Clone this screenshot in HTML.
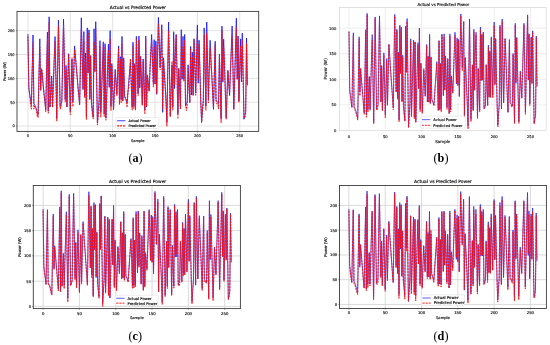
<!DOCTYPE html>
<html><head><meta charset="utf-8"><title>Actual vs Predicted Power</title>
<style>
html,body{margin:0;padding:0;background:#fff;}
body{width:550px;height:345px;overflow:hidden;}
svg{display:block;}
svg text{font-family:"DejaVu Sans","Liberation Sans",sans-serif;stroke:#222;stroke-width:0.18px;}
svg text.cap{font-family:"Liberation Serif","DejaVu Serif",serif;font-size:12.2px;fill:#000;stroke:none;}
</style></head>
<body>
<svg width="550" height="345" viewBox="0 0 550 345">
<rect width="550" height="345" fill="#fff"/>
<g id="plot-a">
<line x1="27.95" y1="11.4" x2="27.95" y2="131.4" stroke="#dcdcdc" stroke-width="0.8"/>
<line x1="70.31" y1="11.4" x2="70.31" y2="131.4" stroke="#dcdcdc" stroke-width="0.8"/>
<line x1="112.67" y1="11.4" x2="112.67" y2="131.4" stroke="#dcdcdc" stroke-width="0.8"/>
<line x1="155.03" y1="11.4" x2="155.03" y2="131.4" stroke="#dcdcdc" stroke-width="0.8"/>
<line x1="197.39" y1="11.4" x2="197.39" y2="131.4" stroke="#dcdcdc" stroke-width="0.8"/>
<line x1="239.75" y1="11.4" x2="239.75" y2="131.4" stroke="#dcdcdc" stroke-width="0.8"/>
<line x1="17" y1="126.05" x2="258.7" y2="126.05" stroke="#dcdcdc" stroke-width="0.8"/>
<line x1="17" y1="102.2" x2="258.7" y2="102.2" stroke="#dcdcdc" stroke-width="0.8"/>
<line x1="17" y1="78.35" x2="258.7" y2="78.35" stroke="#dcdcdc" stroke-width="0.8"/>
<line x1="17" y1="54.5" x2="258.7" y2="54.5" stroke="#dcdcdc" stroke-width="0.8"/>
<line x1="17" y1="30.65" x2="258.7" y2="30.65" stroke="#dcdcdc" stroke-width="0.8"/>
<polyline points="27.95,33.99 28.8,88.51 29.64,93.87 30.49,99.23 31.34,104.58 32.19,69.76 33.03,34.94 33.88,103.63 34.73,105.06 35.57,106.49 36.42,109.23 37.27,111.96 38.12,114.7 38.96,76.73 39.81,38.76 40.66,90.28 41.51,68.81 42.35,77.05 43.2,85.3 44.05,93.54 44.89,101.78 45.74,110.02 46.59,71.05 47.44,32.08 48.28,111.26 49.13,16.82 49.98,106.97 50.82,91.47 51.67,75.97 52.52,106.49 53.37,83.2 54.21,59.91 55.06,36.61 55.91,77.56 56.75,118.51 57.6,69.33 58.45,20.16 59.3,63.09 60.14,106.02 60.99,103.96 61.84,101.91 62.69,60.56 63.53,19.2 64.38,59.34 65.23,99.48 66.07,65.47 66.92,106.97 67.77,80.33 68.62,53.69 69.46,82.48 70.31,111.26 71.16,85.15 72,59.03 72.85,101.96 73.7,73.94 74.55,45.91 75.39,55.93 76.24,65.95 77.09,75.97 77.93,85.58 78.78,95.2 79.63,104.82 80.48,61.3 81.32,17.77 82.17,53.71 83.02,89.65 83.87,31.6 84.71,96 85.56,53.07 86.41,116.41 87.25,27.88 88.1,72.77 88.95,29.84 89.8,98.86 90.64,55.93 91.49,103.01 92.34,110 93.18,116.99 94.03,28.74 94.88,71.67 95.73,21.68 96.57,72.32 97.42,122.95 98.27,111.53 99.11,100.1 99.96,40.67 100.81,112.31 101.66,88.81 102.5,65.31 103.35,41.81 104.2,114.12 105.05,43.62 105.89,118.18 106.74,93.52 107.59,68.86 108.43,44.2 109.28,87.13 110.13,30.65 110.98,106.49 111.82,63.56 112.67,86.46 113.52,109.35 114.36,89.37 115.21,69.38 116.06,81.83 116.91,94.28 117.75,70.1 118.6,45.91 119.45,99.53 120.29,56.6 121.14,99.53 121.99,36.37 122.84,100.77 123.68,57.84 124.53,96.62 125.38,98.56 126.23,100.5 127.07,102.44 127.92,92.3 128.77,82.17 129.61,72.03 130.46,61.89 131.31,84.5 132.16,107.11 133,42.19 133.85,106.49 134.7,63.56 135.54,106.49 136.39,36.37 137.24,65.04 138.09,93.71 138.93,35.99 139.78,87.89 140.63,56.6 141.47,80.71 142.32,104.82 143.17,59.03 144.02,84.53 144.86,110.02 145.71,35.99 146.56,106.97 147.41,75.25 148.25,83.02 149.1,90.8 149.95,72.02 150.79,53.24 151.64,34.47 152.49,58.55 153.34,82.64 154.18,39.71 155.03,84.07 155.88,41.14 156.72,94.28 157.57,55.84 158.42,17.39 159.27,42.5 160.11,67.62 160.96,46.15 161.81,24.69 162.65,112.31 163.5,57.84 164.35,72.32 165.2,86.81 166.04,101.29 166.89,122.23 167.74,72.15 168.59,22.06 169.43,68.93 170.28,115.79 171.13,90.3 171.97,64.8 172.82,106.97 173.67,31.7 174.52,88.51 175.36,52.11 176.21,34.47 177.06,74.3 177.9,114.12 178.75,68.33 179.6,87.65 180.45,106.97 181.29,29.7 182.14,79.3 182.99,36.37 183.83,79.3 184.68,34.47 185.53,106.02 186.38,103.96 187.22,101.91 188.07,64.8 188.92,83.5 189.77,102.2 190.61,46.49 191.46,95.05 192.31,52.11 193.15,95.05 194,38.76 194.85,65.95 195.7,93.14 196.54,59.03 197.39,24.93 198.24,83.12 199.08,40.19 199.93,70.74 200.78,101.29 201.63,121.52 202.47,110.81 203.32,100.1 204.17,27.88 205.01,66.95 205.86,106.02 206.71,22.06 207.56,61.08 208.4,100.1 209.25,70.19 210.1,40.29 210.95,57.55 211.79,74.82 212.64,92.09 213.49,109.35 214.33,75.3 215.18,41.24 216.03,100.1 216.88,101.28 217.72,102.45 218.57,103.63 219.42,54.31 220.26,86.51 221.11,118.7 221.96,26.12 222.81,82.17 223.65,39.24 224.5,65.55 225.35,91.86 226.19,118.18 227.04,94.45 227.89,70.72 228.74,83.12 229.58,95.52 230.43,72.39 231.28,49.25 232.13,26.12 232.97,67.74 233.82,109.35 234.67,78.99 235.51,48.62 236.36,18.25 237.21,78.92 238.06,35.99 238.9,101.29 239.75,70.1 240.6,38.9 241.44,81.83 242.29,33.13 243.14,76.2 243.99,119.28 244.83,115.27 245.68,111.26 246.53,38 247.37,84.55" fill="none" stroke="#1a1aff" stroke-width="0.85" stroke-linejoin="round"/>
<polyline points="27.95,36.46 28.8,85.95 29.64,94.93 30.49,102.59 31.34,109.05 32.19,70.22 33.03,42.79 33.88,108.86 34.73,106.48 35.57,108.15 36.42,110.06 37.27,116.45 38.12,117.15 38.96,77.07 39.81,47.23 40.66,89.99 41.51,68.71 42.35,71.56 43.2,85.51 44.05,95.08 44.89,100.53 45.74,111.74 46.59,69.24 47.44,38.76 48.28,113 49.13,22.32 49.98,107.31 50.82,92.23 51.67,78.69 52.52,107.41 53.37,83.59 54.21,60.1 55.06,41.27 55.91,75.21 56.75,121.33 57.6,69.45 58.45,26.05 59.3,67.15 60.14,108.92 60.99,106.98 61.84,98.89 62.69,62.6 63.53,25.26 64.38,59.86 65.23,101.71 66.07,70.31 66.92,106.67 67.77,81.71 68.62,54.76 69.46,86.12 70.31,114.57 71.16,82.84 72,57.66 72.85,106.77 73.7,77.14 74.55,49.89 75.39,56.67 76.24,66.63 77.09,75.38 77.93,88.66 78.78,95.1 79.63,104.03 80.48,64.06 81.32,29 82.17,58.3 83.02,88.8 83.87,41.62 84.71,97.56 85.56,58.3 86.41,119.3 87.25,34.86 88.1,72.84 88.95,32.38 89.8,99.37 90.64,55.22 91.49,105.11 92.34,113.33 93.18,118.69 94.03,41.78 94.88,72.03 95.73,28.57 96.57,75.44 97.42,124.8 98.27,115.14 99.11,107.56 99.96,45.78 100.81,116.97 101.66,90.97 102.5,66.83 103.35,43.28 104.2,116.31 105.05,47.89 105.89,119.93 106.74,99.04 107.59,66.56 108.43,50.88 109.28,86.89 110.13,39.35 110.98,110.8 111.82,65.91 112.67,82.71 113.52,109.84 114.36,91.76 115.21,70.65 116.06,85.07 116.91,95.61 117.75,71.95 118.6,48.07 119.45,104.32 120.29,59.77 121.14,103.09 121.99,43.3 122.84,100.7 123.68,59.74 124.53,96.61 125.38,97.22 126.23,99.37 127.07,107.44 127.92,92.14 128.77,86.88 129.61,72.4 130.46,58.95 131.31,85.62 132.16,110.01 133,46.18 133.85,108.43 134.7,64.9 135.54,110.27 136.39,39 137.24,64.12 138.09,95.42 138.93,40.5 139.78,87.18 140.63,56.51 141.47,80.2 142.32,105.04 143.17,61.7 144.02,87.73 144.86,113.39 145.71,38.82 146.56,106.64 147.41,75 148.25,84.94 149.1,91.1 149.95,68.27 150.79,52.86 151.64,41.57 152.49,60.76 153.34,86.65 154.18,47.16 155.03,84.25 155.88,45.63 156.72,93.22 157.57,55.3 158.42,23.26 159.27,43.71 160.11,69.76 160.96,52.68 161.81,30.34 162.65,108.25 163.5,59.19 164.35,75.25 165.2,87.02 166.04,99.56 166.89,126.05 167.74,70.43 168.59,30.73 169.43,66.54 170.28,116.45 171.13,90.58 171.97,61.26 172.82,109.95 173.67,39.2 174.52,84.98 175.36,57.21 176.21,34.7 177.06,74.43 177.9,119.03 178.75,69.07 179.6,88.18 180.45,108.49 181.29,36.3 182.14,77.07 182.99,47.12 183.83,80.97 184.68,40.57 185.53,103.62 186.38,110.54 187.22,104.42 188.07,68.76 188.92,85.68 189.77,102.39 190.61,49.3 191.46,92.9 192.31,56.55 193.15,95.69 194,40.84 194.85,64.86 195.7,95.11 196.54,58.38 197.39,33.94 198.24,79.39 199.08,44.5 199.93,71.41 200.78,102.31 201.63,122.37 202.47,108.89 203.32,102.03 204.17,35.16 205.01,66.48 205.86,110.04 206.71,33.32 207.56,60.84 208.4,102.6 209.25,67.98 210.1,47.4 210.95,66.7 211.79,74.22 212.64,92.83 213.49,107.68 214.33,74.15 215.18,45.03 216.03,100.29 216.88,103.82 217.72,104 218.57,108.66 219.42,55.77 220.26,89.2 221.11,122.47 221.96,31.09 222.81,80.5 223.65,46.45 224.5,61.9 225.35,94.37 226.19,118.86 227.04,93.43 227.89,70.58 228.74,83.28 229.58,92.55 230.43,70.43 231.28,51.6 232.13,37.11 232.97,70.34 233.82,108.73 234.67,78.85 235.51,54.39 236.36,27.53 237.21,79.97 238.06,39.62 238.9,102.03 239.75,68.21 240.6,45.71 241.44,79.98 242.29,39.99 243.14,77.07 243.99,117.88 244.83,117.59 245.68,113.86 246.53,43.48 247.37,86.13" fill="none" stroke="#ff0d0d" stroke-width="1.05" stroke-dasharray="2.0 1.0" stroke-linejoin="round"/>
<rect x="17" y="11.4" width="241.7" height="120" fill="none" stroke="#3c3c3c" stroke-width="0.9"/>
<line x1="27.95" y1="131.4" x2="27.95" y2="132.6" stroke="#3c3c3c" stroke-width="0.5"/>
<text x="27.95" y="136.7" font-size="3.55" text-anchor="middle" fill="#1a1a1a">0</text>
<line x1="70.31" y1="131.4" x2="70.31" y2="132.6" stroke="#3c3c3c" stroke-width="0.5"/>
<text x="70.31" y="136.7" font-size="3.55" text-anchor="middle" fill="#1a1a1a">50</text>
<line x1="112.67" y1="131.4" x2="112.67" y2="132.6" stroke="#3c3c3c" stroke-width="0.5"/>
<text x="112.67" y="136.7" font-size="3.55" text-anchor="middle" fill="#1a1a1a">100</text>
<line x1="155.03" y1="131.4" x2="155.03" y2="132.6" stroke="#3c3c3c" stroke-width="0.5"/>
<text x="155.03" y="136.7" font-size="3.55" text-anchor="middle" fill="#1a1a1a">150</text>
<line x1="197.39" y1="131.4" x2="197.39" y2="132.6" stroke="#3c3c3c" stroke-width="0.5"/>
<text x="197.39" y="136.7" font-size="3.55" text-anchor="middle" fill="#1a1a1a">200</text>
<line x1="239.75" y1="131.4" x2="239.75" y2="132.6" stroke="#3c3c3c" stroke-width="0.5"/>
<text x="239.75" y="136.7" font-size="3.55" text-anchor="middle" fill="#1a1a1a">250</text>
<line x1="15.8" y1="126.05" x2="17" y2="126.05" stroke="#3c3c3c" stroke-width="0.5"/>
<text x="14.65" y="127.35" font-size="3.55" text-anchor="end" fill="#1a1a1a">0</text>
<line x1="15.8" y1="102.2" x2="17" y2="102.2" stroke="#3c3c3c" stroke-width="0.5"/>
<text x="14.65" y="103.5" font-size="3.55" text-anchor="end" fill="#1a1a1a">50</text>
<line x1="15.8" y1="78.35" x2="17" y2="78.35" stroke="#3c3c3c" stroke-width="0.5"/>
<text x="14.65" y="79.65" font-size="3.55" text-anchor="end" fill="#1a1a1a">100</text>
<line x1="15.8" y1="54.5" x2="17" y2="54.5" stroke="#3c3c3c" stroke-width="0.5"/>
<text x="14.65" y="55.8" font-size="3.55" text-anchor="end" fill="#1a1a1a">150</text>
<line x1="15.8" y1="30.65" x2="17" y2="30.65" stroke="#3c3c3c" stroke-width="0.5"/>
<text x="14.65" y="31.95" font-size="3.55" text-anchor="end" fill="#1a1a1a">200</text>
<text x="137.85" y="9.1" font-size="4.35" text-anchor="middle" fill="#111">Actual vs Predicted Power</text>
<text x="137.85" y="141.98" font-size="3.6" text-anchor="middle" fill="#1a1a1a">Sample</text>
<text x="0" y="0" font-size="3.7" text-anchor="middle" fill="#1a1a1a" transform="translate(5.61,71.4) rotate(-90)">Power (W)</text>
<rect x="115.9" y="117.6" width="42.9" height="10.9" rx="0.8" fill="#fff" fill-opacity="0.85" stroke="#d8d8d8" stroke-width="0.5"/>
<line x1="117.1" y1="120.76" x2="125.4" y2="120.76" stroke="#1a1aff" stroke-width="0.85"/>
<line x1="117.1" y1="125.88" x2="125.4" y2="125.88" stroke="#ff0d0d" stroke-width="1.05" stroke-dasharray="2.0 1.0"/>
<text x="128.4" y="122" font-size="3.45" fill="#111">Actual Power</text>
<text x="128.4" y="127.13" font-size="3.45" fill="#111">Predicted Power</text>
<text x="135.5" y="162.2" class="cap" text-anchor="middle">(<tspan font-weight="bold">a</tspan>)</text>
</g>
<g id="plot-b">
<line x1="349" y1="7.5" x2="349" y2="130.3" stroke="#e6e6e6" stroke-width="0.7"/>
<line x1="385.3" y1="7.5" x2="385.3" y2="130.3" stroke="#e6e6e6" stroke-width="0.7"/>
<line x1="421.6" y1="7.5" x2="421.6" y2="130.3" stroke="#e6e6e6" stroke-width="0.7"/>
<line x1="457.9" y1="7.5" x2="457.9" y2="130.3" stroke="#e6e6e6" stroke-width="0.7"/>
<line x1="494.2" y1="7.5" x2="494.2" y2="130.3" stroke="#e6e6e6" stroke-width="0.7"/>
<line x1="530.5" y1="7.5" x2="530.5" y2="130.3" stroke="#e6e6e6" stroke-width="0.7"/>
<line x1="339.5" y1="104.8" x2="546.1" y2="104.8" stroke="#e6e6e6" stroke-width="0.7"/>
<line x1="339.5" y1="79.25" x2="546.1" y2="79.25" stroke="#e6e6e6" stroke-width="0.7"/>
<line x1="339.5" y1="53.7" x2="546.1" y2="53.7" stroke="#e6e6e6" stroke-width="0.7"/>
<line x1="339.5" y1="28.15" x2="546.1" y2="28.15" stroke="#e6e6e6" stroke-width="0.7"/>
<polyline points="349,31.73 349.73,90.13 350.45,95.87 351.18,101.61 351.9,107.35 352.63,70.05 353.36,32.75 354.08,106.33 354.81,107.87 355.53,109.4 356.26,112.33 356.99,115.26 357.71,118.19 358.44,77.51 359.16,36.84 359.89,92.02 360.62,69.03 361.34,77.86 362.07,86.69 362.79,95.52 363.52,104.35 364.25,113.18 364.97,71.43 365.7,29.68 366.42,114.51 367.15,13.33 367.88,109.91 368.6,93.3 369.33,76.69 370.05,109.4 370.78,84.45 371.51,59.49 372.23,34.54 372.96,78.41 373.68,122.28 374.41,69.59 375.14,16.91 375.86,62.9 376.59,108.89 377.31,106.69 378.04,104.49 378.77,60.19 379.49,15.89 380.22,58.89 380.94,101.89 381.67,65.45 382.4,109.91 383.12,81.37 383.85,52.83 384.57,83.67 385.3,114.51 386.03,86.53 386.75,58.55 387.48,104.54 388.2,74.52 388.93,44.5 389.66,55.23 390.38,65.96 391.11,76.69 391.83,87 392.56,97.31 393.29,107.61 394.01,60.98 394.74,14.35 395.46,52.86 396.19,91.36 396.92,29.17 397.64,98.16 398.37,52.17 399.09,120.03 399.82,25.19 400.55,73.27 401.27,27.28 402,101.22 402.72,55.23 403.45,105.67 404.18,113.15 404.9,120.64 405.63,26.11 406.35,72.1 407.08,18.54 407.81,72.79 408.53,127.03 409.26,114.79 409.98,102.55 410.71,38.88 411.44,115.63 412.16,90.46 412.89,65.28 413.61,40.11 414.34,117.57 415.07,42.05 415.79,121.92 416.52,95.5 417.24,69.08 417.97,42.66 418.7,88.65 419.42,28.15 420.15,109.4 420.87,63.41 421.6,87.94 422.33,112.46 423.05,91.05 423.78,69.64 424.5,82.98 425.23,96.32 425.96,70.41 426.68,44.5 427.41,101.94 428.13,55.95 428.86,101.94 429.59,34.28 430.31,103.27 431.04,57.28 431.76,98.82 432.49,100.9 433.22,102.98 433.94,105.06 434.67,94.2 435.39,83.34 436.12,72.48 436.85,61.62 437.57,85.84 438.3,110.06 439.02,40.52 439.75,109.4 440.48,63.41 441.2,109.4 441.93,34.28 442.65,64.99 443.38,95.7 444.11,33.87 444.83,89.47 445.56,55.95 446.28,81.78 447.01,107.61 447.74,58.55 448.46,85.87 449.19,113.18 449.91,33.87 450.64,109.91 451.37,75.93 452.09,84.26 452.82,92.59 453.54,72.47 454.27,52.35 455,32.24 455.72,58.04 456.45,83.85 457.17,37.86 457.9,85.38 458.63,39.39 459.35,96.32 460.08,55.13 460.8,13.94 461.53,40.85 462.26,67.75 462.98,44.76 463.71,21.76 464.43,115.63 465.16,57.28 465.89,72.79 466.61,88.31 467.34,103.83 468.06,126.26 468.79,72.61 469.52,18.95 470.24,69.16 470.97,119.36 471.69,92.05 472.42,64.74 473.15,109.91 473.87,29.27 474.6,90.13 475.32,51.14 476.05,32.24 476.78,74.91 477.5,117.57 478.23,68.52 478.95,89.21 479.68,109.91 480.41,27.13 481.13,80.27 481.86,34.28 482.58,80.27 483.31,32.24 484.04,108.89 484.76,106.69 485.49,104.49 486.21,64.74 486.94,84.77 487.67,104.8 488.39,45.12 489.12,97.13 489.84,51.14 490.57,97.13 491.3,36.84 492.02,65.96 492.75,95.09 493.47,58.55 494.2,22.02 494.93,84.36 495.65,38.37 496.38,71.1 497.1,103.83 497.83,125.5 498.56,114.02 499.28,102.55 500.01,25.19 500.73,67.04 501.46,108.89 502.19,18.95 502.91,60.75 503.64,102.55 504.36,70.51 505.09,38.47 505.82,56.97 506.54,75.47 507.27,93.97 507.99,112.46 508.72,75.98 509.45,39.49 510.17,102.55 510.9,103.81 511.62,105.07 512.35,106.33 513.08,53.5 513.8,87.99 514.53,122.48 515.25,23.3 515.98,83.34 516.71,37.35 517.43,65.54 518.16,93.73 518.88,121.92 519.61,96.5 520.34,71.07 521.06,84.36 521.79,97.65 522.51,72.86 523.24,48.08 523.97,23.3 524.69,67.88 525.42,112.46 526.14,79.93 526.87,47.4 527.6,14.86 528.32,79.86 529.05,33.87 529.77,103.83 530.5,70.41 531.23,36.99 531.95,82.98 532.68,30.81 533.4,76.95 534.13,123.09 534.86,118.8 535.58,114.51 536.31,36.02 537.03,85.89" fill="none" stroke="#1a1aff" stroke-width="0.7" stroke-linejoin="round"/>
<polyline points="349,31.46 349.73,91.29 350.45,96.12 351.18,102.29 351.9,107.5 352.63,71.69 353.36,35.24 354.08,108.07 354.81,109.98 355.53,111.32 356.26,114 356.99,116.79 357.71,120.44 358.44,77.18 359.16,39.26 359.89,95.83 360.62,68.07 361.34,78.37 362.07,87.83 362.79,95.89 363.52,105.02 364.25,114.3 364.97,72.44 365.7,31.71 366.42,117.29 367.15,14.9 367.88,112.28 368.6,94.09 369.33,76.75 370.05,110.23 370.78,85.01 371.51,59.73 372.23,40.23 372.96,78.77 373.68,124.02 374.41,70.4 375.14,18.34 375.86,64.59 376.59,110.15 377.31,109.88 378.04,105.26 378.77,62.69 379.49,20.54 380.22,57.36 380.94,102.13 381.67,66.03 382.4,110.94 383.12,83.21 383.85,55.12 384.57,83.65 385.3,118.04 386.03,86.76 386.75,61.26 387.48,105.47 388.2,75.82 388.93,44.3 389.66,55.26 390.38,67.04 391.11,78.87 391.83,88.33 392.56,98.19 393.29,109.78 394.01,61.48 394.74,16.45 395.46,54.11 396.19,92.46 396.92,30.74 397.64,99.32 398.37,52.52 399.09,121.87 399.82,26.09 400.55,73.74 401.27,30.86 402,102.07 402.72,56.97 403.45,107.72 404.18,114.59 404.9,121.39 405.63,30.88 406.35,72.38 407.08,21.61 407.81,73.14 408.53,127.91 409.26,117.5 409.98,102.85 410.71,41.01 411.44,116.89 412.16,91.3 412.89,66.19 413.61,42.48 414.34,118.57 415.07,41.59 415.79,122.38 416.52,95.37 417.24,68.87 417.97,44.84 418.7,88.57 419.42,28.41 420.15,111.89 420.87,63.19 421.6,87.4 422.33,113.42 423.05,90.84 423.78,68.52 424.5,81.04 425.23,95.72 425.96,68.96 426.68,45.72 427.41,101.99 428.13,56.75 428.86,102.54 429.59,36.83 430.31,103.51 431.04,56.69 431.76,99.79 432.49,101.5 433.22,103.26 433.94,106.02 434.67,93.88 435.39,83.4 436.12,73.82 436.85,63.36 437.57,85.49 438.3,110.54 439.02,41.1 439.75,110.24 440.48,63.78 441.2,112.13 441.93,34.87 442.65,66.44 443.38,95.31 444.11,37.1 444.83,90.65 445.56,56.73 446.28,82.48 447.01,109.37 447.74,58.44 448.46,85.55 449.19,113.97 449.91,36.26 450.64,111.86 451.37,76.5 452.09,85.13 452.82,93.19 453.54,71.79 454.27,53.64 455,35.17 455.72,59.51 456.45,82.84 457.17,39.53 457.9,85.5 458.63,40.86 459.35,96.39 460.08,55.95 460.8,15.76 461.53,41.69 462.26,71 462.98,46.38 463.71,21.36 464.43,118.2 465.16,58 465.89,71.76 466.61,88.74 467.34,103.35 468.06,129.13 468.79,73.97 469.52,21.91 470.24,70.17 470.97,121.83 471.69,92.01 472.42,64.93 473.15,110.97 473.87,31.93 474.6,90.34 475.32,52.42 476.05,35.08 476.78,74.41 477.5,118.5 478.23,68.72 478.95,88.96 479.68,112.12 480.41,29.63 481.13,80.99 481.86,34.91 482.58,79.94 483.31,32.17 484.04,108.32 484.76,108.05 485.49,106.52 486.21,64.71 486.94,85.38 487.67,105.88 488.39,47.65 489.12,97.21 489.84,52.1 490.57,97.41 491.3,38.39 492.02,67.3 492.75,98.01 493.47,59.61 494.2,25.27 494.93,85.21 495.65,39.18 496.38,71.35 497.1,103.18 497.83,126.85 498.56,114.52 499.28,102.89 500.01,26.81 500.73,68.68 501.46,108.82 502.19,21.6 502.91,62.42 503.64,102.78 504.36,70.34 505.09,38.94 505.82,57.08 506.54,75.13 507.27,96.23 507.99,111.9 508.72,74.52 509.45,40.43 510.17,102.93 510.9,103.46 511.62,106.89 512.35,106.58 513.08,54.5 513.8,89.43 514.53,123.56 515.25,25.48 515.98,81.87 516.71,38.22 517.43,67.61 518.16,96.32 518.88,123.43 519.61,97.38 520.34,72.18 521.06,86.16 521.79,98.55 522.51,74.11 523.24,50.09 523.97,24.96 524.69,67.95 525.42,114.39 526.14,81.25 526.87,48.93 527.6,16.06 528.32,80.55 529.05,34.12 529.77,105.52 530.5,70.81 531.23,38.14 531.95,84.04 532.68,32.92 533.4,78.42 534.13,123.89 534.86,118.96 535.58,116.38 536.31,37.74 537.03,86.66" fill="none" stroke="#ff0d0d" stroke-width="0.85" stroke-dasharray="2.2 0.85" stroke-linejoin="round"/>
<rect x="339.5" y="7.5" width="206.6" height="122.8" fill="none" stroke="#cfcfcf" stroke-width="0.6"/>
<text x="349" y="137.85" font-size="3.7" text-anchor="middle" fill="#2a2a2a">0</text>
<text x="385.3" y="137.85" font-size="3.7" text-anchor="middle" fill="#2a2a2a">50</text>
<text x="421.6" y="137.85" font-size="3.7" text-anchor="middle" fill="#2a2a2a">100</text>
<text x="457.9" y="137.85" font-size="3.7" text-anchor="middle" fill="#2a2a2a">150</text>
<text x="494.2" y="137.85" font-size="3.7" text-anchor="middle" fill="#2a2a2a">200</text>
<text x="530.5" y="137.85" font-size="3.7" text-anchor="middle" fill="#2a2a2a">250</text>
<text x="336.25" y="131.7" font-size="3.7" text-anchor="end" fill="#2a2a2a">0</text>
<text x="336.25" y="106.15" font-size="3.7" text-anchor="end" fill="#2a2a2a">50</text>
<text x="336.25" y="80.6" font-size="3.7" text-anchor="end" fill="#2a2a2a">100</text>
<text x="336.25" y="55.05" font-size="3.7" text-anchor="end" fill="#2a2a2a">150</text>
<text x="336.25" y="29.5" font-size="3.7" text-anchor="end" fill="#2a2a2a">200</text>
<text x="443.4" y="5.6" font-size="4.0" text-anchor="middle" fill="#111">Actual vs Predicted Power</text>
<text x="442.8" y="143.2" font-size="4.0" text-anchor="middle" fill="#2a2a2a">Sample</text>
<text x="0" y="0" font-size="4.2" text-anchor="middle" fill="#2a2a2a" transform="translate(327.16,68.9) rotate(-90)">Power (W)</text>
<rect x="420.8" y="116.2" width="44.6" height="12" rx="0.8" fill="#fff" fill-opacity="0.85" stroke="#d8d8d8" stroke-width="0.5"/>
<line x1="422" y1="119.68" x2="430.3" y2="119.68" stroke="#1a1aff" stroke-width="0.7"/>
<line x1="422" y1="125.32" x2="430.3" y2="125.32" stroke="#ff0d0d" stroke-width="0.85" stroke-dasharray="2.2 0.85"/>
<text x="433.3" y="120.99" font-size="3.63" fill="#111">Actual Power</text>
<text x="433.3" y="126.63" font-size="3.63" fill="#111">Predicted Power</text>
<text x="441" y="162.2" class="cap" text-anchor="middle">(<tspan font-weight="bold">b</tspan>)</text>
</g>
<g id="plot-c">
<line x1="43.1" y1="185.45" x2="43.1" y2="308.6" stroke="#d2d2d2" stroke-width="0.8"/>
<line x1="79.42" y1="185.45" x2="79.42" y2="308.6" stroke="#d2d2d2" stroke-width="0.8"/>
<line x1="115.74" y1="185.45" x2="115.74" y2="308.6" stroke="#d2d2d2" stroke-width="0.8"/>
<line x1="152.06" y1="185.45" x2="152.06" y2="308.6" stroke="#d2d2d2" stroke-width="0.8"/>
<line x1="188.38" y1="185.45" x2="188.38" y2="308.6" stroke="#d2d2d2" stroke-width="0.8"/>
<line x1="224.7" y1="185.45" x2="224.7" y2="308.6" stroke="#d2d2d2" stroke-width="0.8"/>
<line x1="33.3" y1="306.4" x2="240.4" y2="306.4" stroke="#d2d2d2" stroke-width="0.8"/>
<line x1="33.3" y1="281.15" x2="240.4" y2="281.15" stroke="#d2d2d2" stroke-width="0.8"/>
<line x1="33.3" y1="255.9" x2="240.4" y2="255.9" stroke="#d2d2d2" stroke-width="0.8"/>
<line x1="33.3" y1="230.65" x2="240.4" y2="230.65" stroke="#d2d2d2" stroke-width="0.8"/>
<line x1="33.3" y1="205.4" x2="240.4" y2="205.4" stroke="#d2d2d2" stroke-width="0.8"/>
<polyline points="43.1,208.93 43.83,266.66 44.55,272.33 45.28,278 46.01,283.67 46.73,246.81 47.46,209.94 48.18,282.66 48.91,284.18 49.64,285.69 50.36,288.59 51.09,291.49 51.82,294.38 52.54,254.18 53.27,213.98 54,268.52 54.72,245.8 55.45,254.53 56.18,263.25 56.9,271.98 57.63,280.71 58.35,289.43 59.08,248.17 59.81,206.91 60.53,290.75 61.26,190.75 61.99,286.2 62.71,269.79 63.44,253.37 64.17,285.69 64.89,261.03 65.62,236.37 66.34,211.71 67.07,255.07 67.8,298.42 68.52,246.36 69.25,194.29 69.98,239.74 70.7,285.19 71.43,283.02 72.16,280.85 72.88,237.06 73.61,193.28 74.34,235.78 75.06,278.27 75.79,242.26 76.51,286.2 77.24,258 77.97,229.79 78.69,260.27 79.42,290.75 80.15,263.1 80.87,235.45 81.6,280.9 82.33,251.23 83.05,221.56 83.78,232.16 84.5,242.77 85.23,253.37 85.96,263.56 86.68,273.74 87.41,283.93 88.14,237.85 88.86,191.76 89.59,229.82 90.32,267.87 91.04,206.41 91.77,274.58 92.5,229.13 93.22,296.2 93.95,202.47 94.67,249.99 95.4,204.54 96.13,277.61 96.85,232.16 97.58,282.01 98.31,289.41 99.03,296.8 99.76,203.38 100.49,248.83 101.21,195.91 101.94,249.51 102.66,303.12 103.39,291.02 104.12,278.93 104.84,216 105.57,291.86 106.3,266.98 107.02,242.1 107.75,217.22 108.48,293.77 109.2,219.14 109.93,298.07 110.66,271.96 111.38,245.85 112.11,219.74 112.83,265.19 113.56,205.4 114.29,285.69 115.01,240.24 115.74,264.48 116.47,288.72 117.19,267.57 117.92,246.41 118.65,259.59 119.37,272.77 120.1,247.16 120.82,221.56 121.55,278.32 122.28,232.87 123,278.32 123.73,211.46 124.46,279.63 125.18,234.18 125.91,275.24 126.64,277.3 127.36,279.35 128.09,281.4 128.82,270.67 129.54,259.94 130.27,249.21 130.99,238.48 131.72,262.41 132.45,286.35 133.17,217.62 133.9,285.69 134.63,240.24 135.35,285.69 136.08,211.46 136.81,241.81 137.53,272.16 138.26,211.06 138.98,266 139.71,232.87 140.44,258.4 141.16,283.93 141.89,235.45 142.62,262.44 143.34,289.43 144.07,211.06 144.8,286.2 145.52,252.62 146.25,260.85 146.98,269.08 147.7,249.2 148.43,229.32 149.15,209.44 149.88,234.94 150.61,260.44 151.33,214.99 152.06,261.96 152.79,216.51 153.51,272.77 154.24,232.06 154.97,191.36 155.69,217.95 156.42,244.54 157.14,221.81 157.87,199.09 158.6,291.86 159.32,234.18 160.05,249.52 160.78,264.86 161.5,280.19 162.23,302.36 162.96,249.33 163.68,196.31 164.41,245.93 165.14,295.54 165.86,268.55 166.59,241.56 167.31,286.2 168.04,206.51 168.77,266.66 169.49,228.12 170.22,209.44 170.95,251.61 171.67,293.77 172.4,245.29 173.13,265.75 173.85,286.2 174.58,204.39 175.3,256.91 176.03,211.46 176.76,256.91 177.48,209.44 178.21,285.19 178.94,283.02 179.66,280.85 180.39,241.56 181.12,261.35 181.84,281.15 182.57,222.17 183.3,273.57 184.02,228.12 184.75,273.57 185.47,213.98 186.2,242.77 186.93,271.55 187.65,235.45 188.38,199.34 189.11,260.95 189.83,215.5 190.56,247.85 191.29,280.19 192.01,301.6 192.74,290.27 193.46,278.93 194.19,202.47 194.92,243.83 195.64,285.19 196.37,196.31 197.1,237.62 197.82,278.93 198.55,247.26 199.28,215.6 200,233.88 200.73,252.16 201.46,270.44 202.18,288.72 202.91,252.67 203.63,216.61 204.36,278.93 205.09,280.17 205.81,281.42 206.54,282.66 207.27,230.45 207.99,264.54 208.72,298.62 209.45,200.6 210.17,259.94 210.9,214.49 211.62,242.35 212.35,270.21 213.08,298.07 213.8,272.94 214.53,247.82 215.26,260.95 215.98,274.08 216.71,249.59 217.44,225.09 218.16,200.6 218.89,244.66 219.62,288.72 220.34,256.57 221.07,224.42 221.79,192.27 222.52,256.51 223.25,211.06 223.97,280.19 224.7,247.16 225.43,214.14 226.15,259.59 226.88,208.03 227.61,253.63 228.33,299.23 229.06,294.99 229.78,290.75 230.51,213.18 231.24,262.46" fill="none" stroke="#1a1aff" stroke-width="0.7" stroke-linejoin="round"/>
<polyline points="43.1,210.52 43.83,265.87 44.55,273.91 45.28,277.81 46.01,284.92 46.73,247.24 47.46,209.66 48.18,283.46 48.91,285.22 49.64,286 50.36,288.58 51.09,292.74 51.82,295.09 52.54,255.27 53.27,215.83 54,269.5 54.72,247.35 55.45,256.16 56.18,265.27 56.9,272.85 57.63,281.78 58.35,290.91 59.08,248.21 59.81,210.02 60.53,292.02 61.26,192.92 61.99,286.5 62.71,271.21 63.44,253.85 64.17,288.78 64.89,261.85 65.62,239.17 66.34,214.71 67.07,254.08 67.8,302.07 68.52,245.73 69.25,196.22 69.98,240.5 70.7,285.76 71.43,283.45 72.16,280.69 72.88,237.85 73.61,196.18 74.34,236.99 75.06,280.09 75.79,242.65 76.51,288.05 77.24,257.13 77.97,232.52 78.69,261.66 79.42,292.9 80.15,265.58 80.87,234.14 81.6,284.23 82.33,251.53 83.05,223.26 83.78,231.24 84.5,245.1 85.23,252.37 85.96,264.68 86.68,274.59 87.41,285.6 88.14,237.72 88.86,195.28 89.59,230.74 90.32,268.02 91.04,206.33 91.77,277.73 92.5,228.46 93.22,296.6 93.95,204.89 94.67,249.72 95.4,206.86 96.13,276.75 96.85,232.7 97.58,283.16 98.31,290.79 99.03,298.39 99.76,205.46 100.49,249.8 101.21,196.02 101.94,251.5 102.66,306.4 103.39,292.35 104.12,279.92 104.84,217.02 105.57,293.29 106.3,267.61 107.02,242.11 107.75,217.58 108.48,295.52 109.2,220.78 109.93,297.52 110.66,272.06 111.38,247.05 112.11,218.64 112.83,264.84 113.56,207.81 114.29,287.93 115.01,240.37 115.74,265.73 116.47,290.93 117.19,269.38 117.92,247.09 118.65,258.73 119.37,273.86 120.1,248.77 120.82,222.06 121.55,279.08 122.28,232.74 123,277.93 123.73,213.21 124.46,280.64 125.18,234.9 125.91,277.12 126.64,277.41 127.36,278.82 128.09,282.14 128.82,271.51 129.54,260.48 130.27,250.06 130.99,239.78 131.72,263.17 132.45,288.27 133.17,219.39 133.9,288.33 134.63,240.32 135.35,286.69 136.08,214.2 136.81,244.49 137.53,272.81 138.26,211.53 138.98,267.2 139.71,234.08 140.44,259.2 141.16,284.26 141.89,236.99 142.62,261.79 143.34,290.9 144.07,211.71 144.8,287.23 145.52,252.9 146.25,262.64 146.98,270.32 147.7,249.53 148.43,229.52 149.15,210.85 149.88,236.28 150.61,260.32 151.33,215.43 152.06,262.44 152.79,218.33 153.51,273.82 154.24,232 154.97,193.2 155.69,220.2 156.42,244.41 157.14,223.46 157.87,201.92 158.6,291.83 159.32,234.02 160.05,250.31 160.78,265.2 161.5,280.56 162.23,304.55 162.96,249.52 163.68,197.82 164.41,247.93 165.14,296.55 165.86,268.34 166.59,241.42 167.31,288.62 168.04,207.96 168.77,268 169.49,228.46 170.22,210.49 170.95,251.41 171.67,295.84 172.4,246.11 173.13,265.33 173.85,288.17 174.58,205.75 175.3,256.58 176.03,213.32 176.76,254.67 177.48,211.03 178.21,284.05 178.94,286.02 179.66,284.01 180.39,240.94 181.12,261.03 181.84,282.37 182.57,223.37 183.3,276.18 184.02,229.67 184.75,275.3 185.47,215.68 186.2,242.2 186.93,272.12 187.65,235.69 188.38,202.11 189.11,261.69 189.83,216.8 190.56,248.25 191.29,279.79 192.01,304.01 192.74,289.54 193.46,280.76 194.19,203.34 194.92,244.89 195.64,284.56 196.37,198.35 197.1,237.75 197.82,279.02 198.55,248.05 199.28,218.06 200,236.61 200.73,250.97 201.46,271.73 202.18,290.46 202.91,252.75 203.63,215.97 204.36,281.52 205.09,280.8 205.81,282.74 206.54,283.08 207.27,233.08 207.99,265.35 208.72,299.21 209.45,201.04 210.17,258.6 210.9,216.81 211.62,242.63 212.35,270.9 213.08,300.87 213.8,275.06 214.53,247.18 215.26,261 215.98,274.92 216.71,248.41 217.44,227.14 218.16,202.08 218.89,244.9 219.62,289.92 220.34,256.25 221.07,225.3 221.79,194.34 222.52,256.41 223.25,210.69 223.97,281.38 224.7,246.29 225.43,214.99 226.15,260.2 226.88,208.94 227.61,254.58 228.33,299.51 229.06,297.13 229.78,292.44 230.51,214.36 231.24,261.97" fill="none" stroke="#ff0d0d" stroke-width="0.9" stroke-dasharray="2.3 0.8" stroke-linejoin="round"/>
<rect x="33.3" y="185.45" width="207.1" height="123.15" fill="none" stroke="#3c3c3c" stroke-width="0.9"/>
<line x1="43.1" y1="308.6" x2="43.1" y2="309.8" stroke="#3c3c3c" stroke-width="0.5"/>
<text x="43.1" y="314.57" font-size="3.75" text-anchor="middle" fill="#1a1a1a">0</text>
<line x1="79.42" y1="308.6" x2="79.42" y2="309.8" stroke="#3c3c3c" stroke-width="0.5"/>
<text x="79.42" y="314.57" font-size="3.75" text-anchor="middle" fill="#1a1a1a">50</text>
<line x1="115.74" y1="308.6" x2="115.74" y2="309.8" stroke="#3c3c3c" stroke-width="0.5"/>
<text x="115.74" y="314.57" font-size="3.75" text-anchor="middle" fill="#1a1a1a">100</text>
<line x1="152.06" y1="308.6" x2="152.06" y2="309.8" stroke="#3c3c3c" stroke-width="0.5"/>
<text x="152.06" y="314.57" font-size="3.75" text-anchor="middle" fill="#1a1a1a">150</text>
<line x1="188.38" y1="308.6" x2="188.38" y2="309.8" stroke="#3c3c3c" stroke-width="0.5"/>
<text x="188.38" y="314.57" font-size="3.75" text-anchor="middle" fill="#1a1a1a">200</text>
<line x1="224.7" y1="308.6" x2="224.7" y2="309.8" stroke="#3c3c3c" stroke-width="0.5"/>
<text x="224.7" y="314.57" font-size="3.75" text-anchor="middle" fill="#1a1a1a">250</text>
<line x1="32.1" y1="306.4" x2="33.3" y2="306.4" stroke="#3c3c3c" stroke-width="0.5"/>
<text x="31.15" y="307.77" font-size="3.75" text-anchor="end" fill="#1a1a1a">0</text>
<line x1="32.1" y1="281.15" x2="33.3" y2="281.15" stroke="#3c3c3c" stroke-width="0.5"/>
<text x="31.15" y="282.52" font-size="3.75" text-anchor="end" fill="#1a1a1a">50</text>
<line x1="32.1" y1="255.9" x2="33.3" y2="255.9" stroke="#3c3c3c" stroke-width="0.5"/>
<text x="31.15" y="257.27" font-size="3.75" text-anchor="end" fill="#1a1a1a">100</text>
<line x1="32.1" y1="230.65" x2="33.3" y2="230.65" stroke="#3c3c3c" stroke-width="0.5"/>
<text x="31.15" y="232.02" font-size="3.75" text-anchor="end" fill="#1a1a1a">150</text>
<line x1="32.1" y1="205.4" x2="33.3" y2="205.4" stroke="#3c3c3c" stroke-width="0.5"/>
<text x="31.15" y="206.77" font-size="3.75" text-anchor="end" fill="#1a1a1a">200</text>
<text x="137.55" y="183" font-size="4.45" text-anchor="middle" fill="#111">Actual vs Predicted Power</text>
<text x="136.85" y="319.2" font-size="3.65" text-anchor="middle" fill="#1a1a1a">Sample</text>
<text x="0" y="0" font-size="3.85" text-anchor="middle" fill="#1a1a1a" transform="translate(21.26,247.03) rotate(-90)">Power (W)</text>
<rect x="115" y="295.2" width="43.3" height="10.5" rx="0.8" fill="#fff" fill-opacity="0.85" stroke="#d8d8d8" stroke-width="0.5"/>
<line x1="116.2" y1="298.25" x2="124.5" y2="298.25" stroke="#1a1aff" stroke-width="0.7"/>
<line x1="116.2" y1="303.18" x2="124.5" y2="303.18" stroke="#ff0d0d" stroke-width="0.9" stroke-dasharray="2.3 0.8"/>
<text x="127.5" y="299.58" font-size="3.72" fill="#111">Actual Power</text>
<text x="127.5" y="304.52" font-size="3.72" fill="#111">Predicted Power</text>
<text x="135.3" y="340.4" class="cap" text-anchor="middle">(<tspan font-weight="bold">c</tspan>)</text>
</g>
<g id="plot-d">
<line x1="348.9" y1="185.45" x2="348.9" y2="308.45" stroke="#d2d2d2" stroke-width="0.8"/>
<line x1="385.2" y1="185.45" x2="385.2" y2="308.45" stroke="#d2d2d2" stroke-width="0.8"/>
<line x1="421.5" y1="185.45" x2="421.5" y2="308.45" stroke="#d2d2d2" stroke-width="0.8"/>
<line x1="457.8" y1="185.45" x2="457.8" y2="308.45" stroke="#d2d2d2" stroke-width="0.8"/>
<line x1="494.1" y1="185.45" x2="494.1" y2="308.45" stroke="#d2d2d2" stroke-width="0.8"/>
<line x1="530.4" y1="185.45" x2="530.4" y2="308.45" stroke="#d2d2d2" stroke-width="0.8"/>
<line x1="339.5" y1="304.45" x2="546.4" y2="304.45" stroke="#d2d2d2" stroke-width="0.8"/>
<line x1="339.5" y1="279.69" x2="546.4" y2="279.69" stroke="#d2d2d2" stroke-width="0.8"/>
<line x1="339.5" y1="254.92" x2="546.4" y2="254.92" stroke="#d2d2d2" stroke-width="0.8"/>
<line x1="339.5" y1="230.15" x2="546.4" y2="230.15" stroke="#d2d2d2" stroke-width="0.8"/>
<line x1="339.5" y1="205.39" x2="546.4" y2="205.39" stroke="#d2d2d2" stroke-width="0.8"/>
<polyline points="348.9,208.86 349.63,265.47 350.35,271.03 351.08,276.6 351.8,282.16 352.53,246 353.26,209.85 353.98,281.17 354.71,282.66 355.43,284.14 356.16,286.98 356.89,289.82 357.61,292.66 358.34,253.24 359.06,213.81 359.79,267.3 360.52,245.01 361.24,253.57 361.97,262.13 362.69,270.69 363.42,279.25 364.15,287.81 364.87,247.34 365.6,206.88 366.32,289.1 367.05,191.03 367.78,284.64 368.5,268.54 369.23,252.44 369.95,284.14 370.68,259.96 371.41,235.77 372.13,211.58 372.86,254.1 373.58,296.62 374.31,245.56 375.04,194.49 375.76,239.07 376.49,283.65 377.21,281.52 377.94,279.39 378.67,236.45 379.39,193.5 380.12,235.18 380.84,276.86 381.57,241.55 382.3,284.64 383.02,256.98 383.75,229.31 384.47,259.2 385.2,289.1 385.93,261.98 386.65,234.86 387.38,279.44 388.1,250.34 388.83,221.24 389.56,231.64 390.28,242.04 391.01,252.44 391.73,262.43 392.46,272.42 393.19,282.41 393.91,237.21 394.64,192.02 395.36,229.34 396.09,266.66 396.82,206.38 397.54,273.25 398.27,228.67 398.99,294.44 399.72,202.52 400.45,249.12 401.17,204.55 401.9,276.22 402.62,231.64 403.35,280.53 404.08,287.78 404.8,295.04 405.53,203.41 406.25,247.99 406.98,196.08 407.71,248.65 408.43,301.23 409.16,289.37 409.88,277.51 410.61,215.79 411.34,290.19 412.06,265.78 412.79,241.38 413.51,216.98 414.24,292.07 414.97,218.86 415.69,296.28 416.42,270.67 417.14,245.06 417.87,219.46 418.6,264.03 419.32,205.39 420.05,284.14 420.77,239.57 421.5,263.34 422.23,287.11 422.95,266.36 423.68,245.61 424.4,258.54 425.13,271.46 425.86,246.35 426.58,221.24 427.31,276.91 428.03,232.33 428.76,276.91 429.49,211.33 430.21,278.2 430.94,233.62 431.66,273.89 432.39,275.9 433.12,277.92 433.84,279.93 434.57,269.41 435.29,258.88 436.02,248.36 436.75,237.83 437.47,261.31 438.2,284.79 438.92,217.38 439.65,284.14 440.38,239.57 441.1,284.14 441.83,211.33 442.55,241.1 443.28,270.87 444.01,210.94 444.73,264.83 445.46,232.33 446.18,257.37 446.91,282.41 447.64,234.86 448.36,261.33 449.09,287.81 449.81,210.94 450.54,284.64 451.27,251.7 451.99,259.77 452.72,267.85 453.44,248.35 454.17,228.85 454.9,209.35 455.62,234.37 456.35,259.38 457.07,214.8 457.8,260.86 458.53,216.29 459.25,271.46 459.98,231.54 460.7,191.62 461.43,217.7 462.16,243.78 462.88,221.49 463.61,199.2 464.33,290.19 465.06,233.62 465.79,248.66 466.51,263.7 467.24,278.74 467.96,300.49 468.69,248.48 469.42,196.47 470.14,245.14 470.87,293.8 471.59,267.33 472.32,240.85 473.05,284.64 473.77,206.48 474.5,265.47 475.22,227.68 475.95,209.35 476.68,250.71 477.4,292.07 478.13,244.52 478.85,264.58 479.58,284.64 480.31,204.4 481.03,255.91 481.76,211.33 482.48,255.91 483.21,209.35 483.94,283.65 484.66,281.52 485.39,279.39 486.11,240.85 486.84,260.27 487.57,279.69 488.29,221.83 489.02,272.26 489.74,227.68 490.47,272.26 491.2,213.81 491.92,242.04 492.65,270.27 493.37,234.86 494.1,199.45 494.83,259.87 495.55,215.3 496.28,247.02 497,278.74 497.73,299.74 498.46,288.63 499.18,277.51 499.91,202.52 500.63,243.08 501.36,283.65 502.09,196.47 502.81,236.99 503.54,277.51 504.26,246.45 504.99,215.4 505.72,233.32 506.44,251.25 507.17,269.18 507.89,287.11 508.62,251.75 509.35,216.39 510.07,277.51 510.8,278.73 511.52,279.95 512.25,281.17 512.98,229.96 513.7,263.39 514.43,296.82 515.15,200.68 515.88,258.88 516.61,214.31 517.33,241.63 518.06,268.95 518.78,296.28 519.51,271.64 520.24,247 520.96,259.87 521.69,272.75 522.41,248.73 523.14,224.71 523.87,200.68 524.59,243.9 525.32,287.11 526.04,255.58 526.77,224.05 527.5,192.51 528.22,255.51 528.95,210.94 529.67,278.74 530.4,246.35 531.13,213.96 531.85,258.54 532.58,207.97 533.3,252.69 534.03,297.42 534.76,293.26 535.48,289.1 536.21,213.02 536.93,261.36" fill="none" stroke="#1a1aff" stroke-width="0.7" stroke-linejoin="round"/>
<polyline points="348.9,210.86 349.63,265.67 350.35,272.66 351.08,277.49 351.8,282.62 352.53,245.69 353.26,209.92 353.98,283.83 354.71,284.21 355.43,286.72 356.16,289.8 356.89,292.04 357.61,294.52 358.34,252.88 359.06,214.99 359.79,265.4 360.52,244.19 361.24,255.73 361.97,262.49 362.69,272.5 363.42,281.35 364.15,288.08 364.87,247.75 365.6,211.45 366.32,290.67 367.05,194.33 367.78,287.83 368.5,270.61 369.23,253.34 369.95,285.88 370.68,260.98 371.41,236.39 372.13,211.23 372.86,255.3 373.58,299.96 374.31,246.09 375.04,195.91 375.76,240.49 376.49,283.56 377.21,284.71 377.94,282.14 378.67,237.19 379.39,197.4 380.12,236.69 380.84,277.65 381.57,241.07 382.3,286.23 383.02,257.67 383.75,228.68 384.47,259.17 385.2,291.34 385.93,261.07 386.65,236.73 387.38,280.71 388.1,249.54 388.83,222.69 389.56,233.27 390.28,242 391.01,253.24 391.73,263.79 392.46,274.81 393.19,282.42 393.91,238.53 394.64,193.48 395.36,229.9 396.09,267.82 396.82,207.73 397.54,274.07 398.27,229.57 398.99,298.37 399.72,204.8 400.45,248.06 401.17,206.22 401.9,276.3 402.62,230.71 403.35,281.55 404.08,287.23 404.8,299.17 405.53,206.03 406.25,251.21 406.98,197.76 407.71,248.6 408.43,301.7 409.16,291.79 409.88,281.39 410.61,215.92 411.34,293.86 412.06,268.14 412.79,242.03 413.51,217.85 414.24,294.8 414.97,220.19 415.69,300.92 416.42,269.56 417.14,245.39 417.87,220.83 418.6,264.01 419.32,207.41 420.05,285.6 420.77,241.23 421.5,264.15 422.23,288.43 422.95,265.89 423.68,245.98 424.4,258.85 425.13,272.12 425.86,245.82 426.58,222.42 427.31,278.57 428.03,233.85 428.76,276.87 429.49,212.9 430.21,279.59 430.94,230.13 431.66,273.99 432.39,276.14 433.12,279.13 433.84,282.69 434.57,268.97 435.29,259.44 436.02,248.37 436.75,237.17 437.47,260.62 438.2,286.23 438.92,218.98 439.65,283.25 440.38,239.38 441.1,287.12 441.83,212.34 442.55,241.36 443.28,271.87 444.01,212.04 444.73,265.28 445.46,230.73 446.18,257.49 446.91,283.72 447.64,234.18 448.36,262.6 449.09,288.44 449.81,212.96 450.54,284.91 451.27,252.84 451.99,259.74 452.72,270.72 453.44,248.98 454.17,229.89 454.9,210.77 455.62,232.7 456.35,257.57 457.07,218.22 457.8,262.35 458.53,216.42 459.25,271.99 459.98,234.15 460.7,193.94 461.43,220.7 462.16,245.15 462.88,224.47 463.61,202.06 464.33,289.41 465.06,233.97 465.79,248.86 466.51,261.28 467.24,280.75 467.96,303.2 468.69,248.88 469.42,198.63 470.14,245.76 470.87,294.19 471.59,268.56 472.32,240.61 473.05,286.09 473.77,209.72 474.5,267.45 475.22,228.86 475.95,214.22 476.68,250.73 477.4,294.07 478.13,244.61 478.85,265.4 479.58,285.93 480.31,207.11 481.03,255.41 481.76,215.28 482.48,255.08 483.21,212.47 483.94,284.73 484.66,283.67 485.39,281.38 486.11,242.29 486.84,259.13 487.57,282.51 488.29,224.73 489.02,273.1 489.74,228.47 490.47,273.32 491.2,216.81 491.92,243.24 492.65,270.17 493.37,236.89 494.1,201.22 494.83,259.47 495.55,216.86 496.28,248.66 497,277.83 497.73,302.08 498.46,290.31 499.18,279.34 499.91,206.06 500.63,243.75 501.36,285.08 502.09,200.19 502.81,237.49 503.54,277.46 504.26,246.08 504.99,217.24 505.72,232.86 506.44,250.18 507.17,269.03 507.89,289.95 508.62,254.08 509.35,217.08 510.07,278.81 510.8,280.62 511.52,280.85 512.25,283.29 512.98,231.72 513.7,261.83 514.43,301.12 515.15,202.11 515.88,258.08 516.61,213.9 517.33,241.73 518.06,269.27 518.78,299.72 519.51,272.68 520.24,249.73 520.96,261.07 521.69,273.92 522.41,248.92 523.14,226.56 523.87,201.71 524.59,246.16 525.32,288.81 526.04,256.35 526.77,225.29 527.5,195.32 528.22,253.39 528.95,214.2 529.67,278.53 530.4,244.8 531.13,215.91 531.85,259.72 532.58,211.59 533.3,253.89 534.03,297.27 534.76,298.09 535.48,290.49 536.21,215.72 536.93,259.59" fill="none" stroke="#ff0d0d" stroke-width="0.9" stroke-dasharray="2.3 0.8" stroke-linejoin="round"/>
<rect x="339.5" y="185.45" width="206.9" height="123" fill="none" stroke="#3c3c3c" stroke-width="0.9"/>
<line x1="348.9" y1="308.45" x2="348.9" y2="309.65" stroke="#3c3c3c" stroke-width="0.5"/>
<text x="348.9" y="314.17" font-size="3.75" text-anchor="middle" fill="#1a1a1a">0</text>
<line x1="385.2" y1="308.45" x2="385.2" y2="309.65" stroke="#3c3c3c" stroke-width="0.5"/>
<text x="385.2" y="314.17" font-size="3.75" text-anchor="middle" fill="#1a1a1a">50</text>
<line x1="421.5" y1="308.45" x2="421.5" y2="309.65" stroke="#3c3c3c" stroke-width="0.5"/>
<text x="421.5" y="314.17" font-size="3.75" text-anchor="middle" fill="#1a1a1a">100</text>
<line x1="457.8" y1="308.45" x2="457.8" y2="309.65" stroke="#3c3c3c" stroke-width="0.5"/>
<text x="457.8" y="314.17" font-size="3.75" text-anchor="middle" fill="#1a1a1a">150</text>
<line x1="494.1" y1="308.45" x2="494.1" y2="309.65" stroke="#3c3c3c" stroke-width="0.5"/>
<text x="494.1" y="314.17" font-size="3.75" text-anchor="middle" fill="#1a1a1a">200</text>
<line x1="530.4" y1="308.45" x2="530.4" y2="309.65" stroke="#3c3c3c" stroke-width="0.5"/>
<text x="530.4" y="314.17" font-size="3.75" text-anchor="middle" fill="#1a1a1a">250</text>
<line x1="338.3" y1="304.45" x2="339.5" y2="304.45" stroke="#3c3c3c" stroke-width="0.5"/>
<text x="337.25" y="305.82" font-size="3.75" text-anchor="end" fill="#1a1a1a">0</text>
<line x1="338.3" y1="279.69" x2="339.5" y2="279.69" stroke="#3c3c3c" stroke-width="0.5"/>
<text x="337.25" y="281.05" font-size="3.75" text-anchor="end" fill="#1a1a1a">50</text>
<line x1="338.3" y1="254.92" x2="339.5" y2="254.92" stroke="#3c3c3c" stroke-width="0.5"/>
<text x="337.25" y="256.29" font-size="3.75" text-anchor="end" fill="#1a1a1a">100</text>
<line x1="338.3" y1="230.15" x2="339.5" y2="230.15" stroke="#3c3c3c" stroke-width="0.5"/>
<text x="337.25" y="231.52" font-size="3.75" text-anchor="end" fill="#1a1a1a">150</text>
<line x1="338.3" y1="205.39" x2="339.5" y2="205.39" stroke="#3c3c3c" stroke-width="0.5"/>
<text x="337.25" y="206.76" font-size="3.75" text-anchor="end" fill="#1a1a1a">200</text>
<text x="442.95" y="183" font-size="4.48" text-anchor="middle" fill="#111">Actual vs Predicted Power</text>
<text x="442.95" y="319.21" font-size="3.7" text-anchor="middle" fill="#1a1a1a">Sample</text>
<text x="0" y="0" font-size="3.8" text-anchor="middle" fill="#1a1a1a" transform="translate(327.04,246.95) rotate(-90)">Power (W)</text>
<rect x="421.2" y="294.9" width="43.3" height="10.8" rx="0.8" fill="#fff" fill-opacity="0.85" stroke="#d8d8d8" stroke-width="0.5"/>
<line x1="422.4" y1="298.03" x2="430.7" y2="298.03" stroke="#1a1aff" stroke-width="0.7"/>
<line x1="422.4" y1="303.11" x2="430.7" y2="303.11" stroke="#ff0d0d" stroke-width="0.9" stroke-dasharray="2.3 0.8"/>
<text x="433.7" y="299.41" font-size="3.83" fill="#111">Actual Power</text>
<text x="433.7" y="304.49" font-size="3.83" fill="#111">Predicted Power</text>
<text x="441" y="340.4" class="cap" text-anchor="middle">(<tspan font-weight="bold">d</tspan>)</text>
</g>
</svg>
</body></html>
